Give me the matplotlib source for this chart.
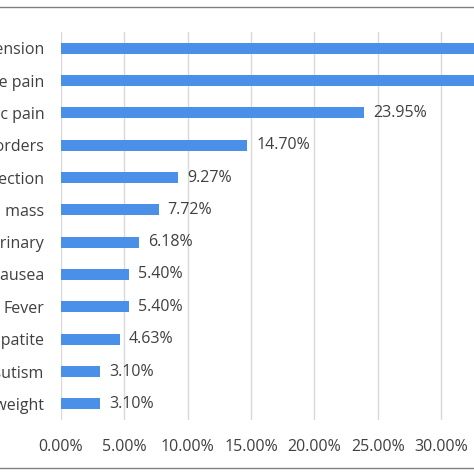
import matplotlib
matplotlib.use("Agg")
import matplotlib.pyplot as plt
from matplotlib.lines import Line2D

categories = ["Abdominal distension", "Right side pain", "Epigastric pain", "Menstrual disorders",
              "Urinary infection", "Abdominal mass", "Urinary", "Nausea", "Fever",
              "Hepatite", "Hirsutism", "Loss of weight"]
values = [38.0, 36.0, 23.95, 14.70, 9.27, 7.72, 6.18, 5.40, 5.40, 4.63, 3.10, 3.10]
xticks = [0, 5, 10, 15, 20, 25, 30, 35]

W = 474
fig = plt.figure(figsize=(4.74, 4.74), dpi=100)
fig.patch.set_facecolor("white")
px = 12.67
ax = fig.add_axes([61 / W, (474 - 420) / W, 40 * px / W, 388 / W])
y = list(range(len(categories)))[::-1]
ax.barh(y, values, height=0.34, color="#4a90e8", zorder=3)
for yi, v in zip(y, values):
    ax.text(v + 0.7, yi, f"{v:.2f}%", va="center", ha="left", fontsize=11.5,
            color="#404040", family="Open Sans")
ax.set_xlim(0, 40)
ax.set_ylim(-0.5, len(categories) - 0.5)
ax.set_xticks(xticks)
ax.set_xticklabels([f"{t:.2f}%" for t in xticks], fontsize=11.5, color="#404040", family="Open Sans")
ax.set_yticks(y)
ax.set_yticklabels(categories, fontsize=11.5, color="#404040", family="Open Sans")
ax.tick_params(length=0, pad=12)
ax.tick_params(axis="x", pad=14)
ax.grid(axis="x", color="#d9d9d9", linewidth=1, zorder=0)
for s in ax.spines.values():
    s.set_visible(False)
fig.add_artist(Line2D([0, 1], [1 - 7 / W, 1 - 7 / W], color="#808080", linewidth=1))
fig.add_artist(Line2D([0, 1], [6 / W, 6 / W], color="#808080", linewidth=1))
fig.savefig("out.png", dpi=100)
